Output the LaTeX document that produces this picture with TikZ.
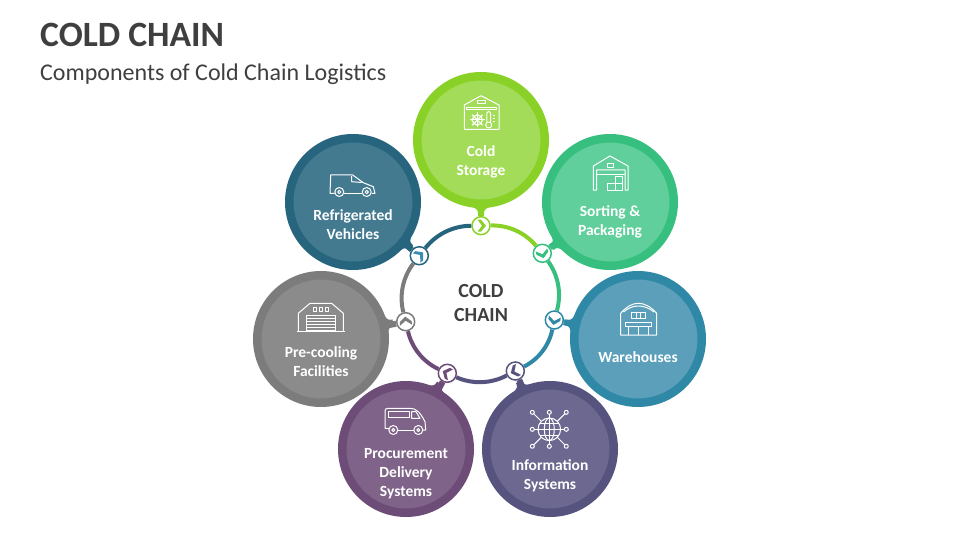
\documentclass[tikz,border=0pt]{standalone}
\usepackage{fontspec}
\setmainfont{Carlito}
\usetikzlibrary{positioning}
\definecolor{inkgray}{HTML}{3F3F3F}
\definecolor{limeRim}{HTML}{8AD127}
\definecolor{limeCore}{HTML}{A3DC58}
\definecolor{mintRim}{HTML}{37BF80}
\definecolor{mintCore}{HTML}{60CF9C}
\definecolor{blueRim}{HTML}{2F88A6}
\definecolor{blueCore}{HTML}{5B9FBA}
\definecolor{indigoRim}{HTML}{56537F}
\definecolor{indigoCore}{HTML}{6C6890}
\definecolor{plumRim}{HTML}{6E4C78}
\definecolor{plumCore}{HTML}{7F6388}
\definecolor{grayRim}{HTML}{7C7C7C}
\definecolor{grayCore}{HTML}{8B8B8B}
\definecolor{tealRim}{HTML}{27657F}
\definecolor{tealCore}{HTML}{437A90}
\definecolor{tealTip}{HTML}{3A8DB0}
\tikzset{bigcirc/.style = {circle, line width = 8.5, minimum size = 127.5, inner sep = 0}}
\tikzset{smallcirc/.style = {circle, fill = white, line width = 1.5, minimum size = 18, inner sep = 0}}
\tikzset{label/.style = {align = center, text = white, font = \fontsize{15.5}{19}\selectfont\bfseries}}
\tikzset{icon/.style = {draw = white, line width = 1, line join = round}}

\begin{document}
\begin{tikzpicture}[x=1pt, y=-1pt]
      \useasboundingbox (0, 0) rectangle (960, 540);

      \node [anchor = base west, inner sep = 0, text = inkgray, font = \fontsize{35.6}{35.6}\selectfont\bfseries] (title) at (40, 47) {COLD CHAIN};
      \node [anchor = base west, inner sep = 0, text = inkgray, font = \fontsize{24}{24}\selectfont] (subtitle) at (40, 81) {Components of Cold Chain Logistics};

      % big circle, ring stop, direction of the stem, turn of the chevron, colours
      \foreach \name/\bx/\by/\sx/\sy/\dir/\turn/\rim/\core/\tip in {
          cold/481/140/481/225.7/-90/0/limeRim/limeCore/limeRim,
          sort/610/202/542.3/253.3/218/-75/mintRim/mintCore/mintRim,
          ware/638/339/554.3/320/167/-100/blueRim/blueCore/blueRim,
          info/550/449/515.3/371/115/-155/indigoRim/indigoCore/indigoRim,
          proc/406/449/447.3/373.3/63/155/plumRim/plumCore/plumRim,
          cool/321/339/405.7/321.7/13/95/grayRim/grayCore/grayRim,
          vehi/353/202/419.3/255.7/-38/40/tealRim/tealCore/tealTip} {
        \node [bigcirc, draw = \rim, fill = \core] (\name) at (\bx, \by) {};
        \node [smallcirc, draw = \rim] (\name stop) at (\sx, \sy) {};
        \draw [\rim, line width = 6] (\name) -- (\name stop);
        \fill [\rim, shift = {(\bx, \by)}, rotate = \dir]
          (66.5, -10) .. controls (69, -3.5) and (70, -3) .. (74, -3) -- (74, 3)
          .. controls (70, 3) and (69, 3.5) .. (66.5, 10) -- cycle;
        \fill [\tip, shift = {(\sx, \sy)}, rotate = \turn]
          (-3.5, -6) -- (0, -6) -- (5, 0) -- (0, 6) -- (-3.5, 6) -- (1, 0) -- cycle;
      }

      \draw [limeRim, line width = 4] (coldstop) to [bend left = 25.7, looseness = 0.9] (sortstop);
      \draw [mintRim, line width = 4] (sortstop) to [bend left = 25.7, looseness = 0.9] (warestop);
      \draw [blueRim, line width = 4] (warestop) to [bend left = 25.7, looseness = 0.9] (infostop);
      \draw [indigoRim, line width = 4] (infostop) to [bend left = 25.7, looseness = 0.9] (procstop);
      \draw [plumRim, line width = 4] (procstop) to [bend left = 25.7, looseness = 0.9] (coolstop);
      \draw [grayRim, line width = 4] (coolstop) to [bend left = 25.7, looseness = 0.9] (vehistop);
      \draw [tealRim, line width = 4] (vehistop) to [bend left = 25.7, looseness = 0.9] (coldstop);

      \node [label] (coldlabel) at (481, 161.5) {Cold\\Storage};
      \node [label] (sortlabel) at (610, 221.5) {Sorting \&\\Packaging};
      \node [label] (warelabel) at (638, 357.5) {Warehouses};
      \node [label] (infolabel) at (550, 475.5) {Information\\Systems};
      \node [label] (proclabel) at (406, 473.5) {Procurement\\Delivery\\Systems};
      \node [label] (coollabel) at (321, 362) {Pre-cooling\\Facilities};
      \node [label] (vehilabel) at (353, 224.5) {Refrigerated\\Vehicles};
      \node [align = center, text = inkgray, font = \fontsize{20}{23.5}\selectfont\bfseries] (hub) at (481, 303) {COLD\\CHAIN};

      % cold storage
      \draw [icon] (464.3, 129.3) -- (464.3, 105) -- (481, 95.7) -- (499, 105) -- (499, 129.3) -- cycle;
      \draw [icon] (466.7, 107.5) rectangle (496.7, 110);
      \draw [icon] (477, 100.7) rectangle (485, 104);
      \foreach \a in {0, 45, ..., 315} {
        \draw [icon, shift = {(477.3, 120)}] (0, 0) -- (\a:7.5);
        \draw [icon, shift = {(477.3, 120)}, rotate = \a] (4, -2) -- (5.5, 0) -- (4, 2);
      }
      \draw [icon] (486.9, 122.5) -- (486.9, 113) arc [start angle = 180, end angle = 360, radius = 1.8] -- (490.5, 122.5);
      \draw [icon] (488.7, 125) circle [radius = 3];
      \foreach \y in {115, 118, 121} {
        \draw [icon, line width = 0.7] (492.5, \y) -- (494.5, \y);
      }

      % sorting and packaging
      \draw [icon] (593.3, 190) -- (593.3, 166) -- (610, 156) -- (628, 166) -- (628, 190) -- (625, 190) -- (625, 170) -- (596.7, 170) -- (596.7, 190) -- cycle;
      \draw [icon] (596.7, 174.3) -- (625, 174.3);
      \draw [icon] (607.3, 164) rectangle (613.3, 167.3);
      \draw [icon] (607.3, 183.3) rectangle (615, 190);
      \draw [icon] (615, 183.3) rectangle (622.7, 190);
      \draw [icon] (615, 176.7) rectangle (622.7, 183.3);

      % warehouses
      \draw [icon] (620.7, 335) -- (620.7, 313.3) .. controls (626, 307) and (632, 303.3) .. (638.3, 303.3) .. controls (645, 303.3) and (651, 307) .. (656.7, 313.3) -- (656.7, 335) -- cycle;
      \draw [icon] (623.5, 312) .. controls (628, 308) and (633, 306) .. (638.3, 306) .. controls (644, 306) and (649, 308) .. (654, 312);
      \draw [icon] (631.7, 312.7) rectangle (645, 318.3);
      \draw [icon] (636.1, 312.7) -- (636.1, 318.3);
      \draw [icon] (640.5, 312.7) -- (640.5, 318.3);
      \draw [icon] (625.7, 322.7) rectangle (651.7, 326);
      \foreach \x in {628.3, 638.3, 648.3} {
        \draw [icon] (\x, 326) -- (\x, 335);
      }

      % information systems
      \draw [icon] (549.3, 429.3) circle [radius = 11.3];
      \draw [icon] (549.3, 429.3) ellipse [x radius = 5, y radius = 11.3];
      \draw [icon] (549.3, 418) -- (549.3, 440.6);
      \draw [icon] (538, 429.3) -- (560.6, 429.3);
      \draw [icon] (540, 423) -- (558.6, 423);
      \draw [icon] (540, 435.6) -- (558.6, 435.6);
      \foreach \a/\r in {0/17, 45/24, 90/17, 135/24, 180/17, 225/24, 270/17, 315/24} {
        \draw [icon, shift = {(549.3, 429.3)}] (\a:11.3) -- (\a:\r - 2);
        \draw [icon, shift = {(549.3, 429.3)}] (\a:\r) circle [radius = 2];
      }

      % procurement delivery
      \draw [icon] (389, 428.6) -- (385, 428.3) -- (385, 411) .. controls (385, 409) and (386, 408.3) .. (388, 408.3) -- (410, 408.3) .. controls (416, 408.3) and (420, 412) .. (425, 421.7) -- (425.7, 430) -- (423, 430);
      \draw [icon] (398, 430) -- (413.5, 430);
      \draw [icon] (388.3, 411) rectangle (409.3, 417.7);
      \draw [icon] (411.7, 411.7) -- (416, 411.7) -- (420, 418.3) -- (411.7, 418.3) -- cycle;
      \draw [icon] (393.3, 430) circle [radius = 4.5];
      \draw [icon] (418.3, 430) circle [radius = 4.5];
      \draw [icon] (393.3, 430) circle [radius = 1.5];
      \draw [icon] (418.3, 430) circle [radius = 1.5];

      % pre-cooling
      \draw [icon] (298.3, 331.7) -- (298.3, 313.3) -- (310, 303.3) -- (331.7, 303.3) -- (343.3, 313.3) -- (343.3, 331.7);
      \draw [icon] (296.7, 331.7) -- (345, 331.7);
      \foreach \x in {315, 320.7, 326.7} {
        \draw [icon] (\x - 1.7, 307.6) rectangle (\x + 1.7, 311);
      }
      \draw [icon] (306, 331.7) -- (306, 315) -- (335, 315) -- (335, 331.7);
      \foreach \y in {318, 321, 324, 327, 330} {
        \draw [icon] (306, \y) -- (335, \y);
      }

      % refrigerated vehicles
      \draw [icon] (334.5, 193.3) -- (330, 193.3) -- (330.7, 175) -- (352.7, 175) -- (363.3, 182.7) -- (373.3, 186.7) -- (375, 193.3) -- (371.5, 193.3);
      \draw [icon] (344, 193.3) -- (362, 193.3);
      \draw [icon] (351.7, 176) -- (351.7, 181.7) -- (362, 182.5);
      \draw [icon] (339.3, 192) circle [radius = 4.5];
      \draw [icon] (366.7, 192) circle [radius = 4.5];
      \draw [icon] (339.3, 192) circle [radius = 1.7];
      \draw [icon] (366.7, 192) circle [radius = 1.7];

    \end{tikzpicture}
\end{document}
